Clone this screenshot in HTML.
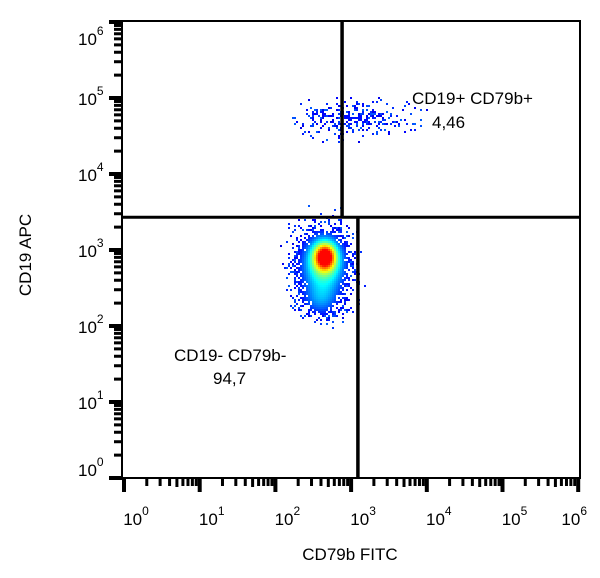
<!DOCTYPE html>
<html><head><meta charset="utf-8">
<style>
html,body{margin:0;padding:0;background:#fff;}
svg{display:block;font-family:"Liberation Sans",Arial,sans-serif;}
</style></head>
<body>
<svg id="chart" width="600" height="578" viewBox="0 0 600 578" xmlns="http://www.w3.org/2000/svg">
<g id="dots"></g>
<g id="axes"></g>
<rect x="122" y="21" width="458" height="457" fill="none" stroke="#000" stroke-width="2"/>
<g id="gates"></g>
<text x="412" y="104" font-size="17">CD19+ CD79b+</text>
<text x="432" y="128" font-size="17">4,46</text>
<text x="174" y="361" font-size="17">CD19- CD79b-</text>
<text x="213" y="384" font-size="17">94,7</text>
<text x="350" y="560" font-size="17" text-anchor="middle">CD79b FITC</text>
<text x="0" y="0" font-size="17" text-anchor="middle" transform="translate(31,255) rotate(-90)">CD19 APC</text>
</svg>
<script>
// Axis decades
const xDecades = [0,1,2,3,4,5,6];
const yDecades = [0,1,2,3,4,5,6];
// Quadrant gate (data units)
const gateY = 2700;
const gateXUpper = 760;
const gateXLower = 1230;
// Populations (centers / spreads in data units, spreads in decades)
const popCenterX = [440, 420, 380, 1100];
const popCenterY = [850, 650, 220, 55000];
const popSpreadX = [0.1, 0.2, 0.17, 0.42];
const popSpreadY = [0.12, 0.27, 0.15, 0.14];
const popWeight  = [0.75, 0.5, 0.18, 0.11];

const NS='http://www.w3.org/2000/svg';
const X0=124, XD=75.7, Y0=478, YD=76;
function sx(v){return X0+XD*Math.log10(v);}
function sy(v){return Y0-YD*Math.log10(v);}
function mk(tag,attrs,parent){const e=document.createElementNS(NS,tag);for(const k in attrs)e.setAttribute(k,attrs[k]);parent.appendChild(e);return e;}

const axes=document.getElementById('axes');
xDecades.forEach((d,i)=>{
  const x=sx(Math.pow(10,d));
  const t=mk('rect',{x:x-2,y:478,width:4,height:14,fill:'#000'},axes);
  
  
  if(i<xDecades.length-1){
    for(let m=2;m<=9;m++){
      const xm=sx(m*Math.pow(10,d));
      const mt=mk('rect',{x:xm-1.5,y:478,width:3,height:m===5?9:8,fill:'#000'},axes);
      
      
    }
  }
  const lab=mk('text',{x:x+(d===6?-4:12),y:525,'font-size':17,'text-anchor':'middle'},axes);
  
  
  lab.textContent='10';
  const sup=mk('tspan',{dy:-10,'font-size':12},lab);
  sup.textContent=String(d);
});
yDecades.forEach((d,i)=>{
  const y=sy(Math.pow(10,d));
  const t=mk('rect',{x:109,y:y-2,width:13,height:4,fill:'#000'},axes);
  
  
  if(i<yDecades.length-1){
    for(let m=2;m<=9;m++){
      const ym=sy(m*Math.pow(10,d));
      const mt=mk('rect',{x:114,y:ym-1.5,width:8,height:3,fill:'#000'},axes);
      
      
    }
  }
  const ly = d===6 ? y+23 : (d===0? y-2 : y+7);
  const lab=mk('text',{x:78,y:ly,'font-size':17},axes);
  
  
  lab.textContent='10';
  const sup=mk('tspan',{dy:-10,'font-size':12},lab);
  sup.textContent=String(d);
});

const gates=document.getElementById('gates');
const gh=mk('line',{x1:122,x2:580,y1:sy(gateY),y2:sy(gateY),stroke:'#000','stroke-width':3},gates);


const gv1=mk('line',{x1:sx(gateXUpper),x2:sx(gateXUpper),y1:21,y2:sy(gateY),stroke:'#000','stroke-width':3.5},gates);


const gv2=mk('line',{x1:sx(gateXLower),x2:sx(gateXLower),y1:sy(gateY),y2:478,stroke:'#000','stroke-width':3.5},gates);



function hash(a,b){let h=(a*374761393+b*668265263)|0;h=(h^(h>>>13))*1274126177|0;h=h^(h>>>16);return ((h>>>0)%10000)/10000;}
function jet(t){t=Math.max(0,Math.min(1,t));
  const r=Math.max(0,Math.min(1,1.5-Math.abs(4*t-3)));
  const g=Math.max(0,Math.min(1,1.5-Math.abs(4*t-2)));
  const b=Math.max(0,Math.min(1,1.5-Math.abs(4*t-1)));
  return `rgb(${Math.round(r*255)},${Math.round(g*255)},${Math.round(b*255)})`;}
const dots=document.getElementById('dots');
const cell=2;
let html='';
for(let px=124;px<578;px+=cell){
  for(let py=23;py<478;py+=cell){
    const lx=(px-X0)/XD, ly=(Y0-py)/YD;
    let dens=0;
    for(let k=0;k<popCenterX.length;k++){
      const dx=(lx-Math.log10(popCenterX[k]))/popSpreadX[k];
      const dy=(ly-Math.log10(popCenterY[k]))/popSpreadY[k];
      dens+=popWeight[k]*Math.exp(-0.5*(dx*dx+dy*dy));
    }
    if(dens<0.004)continue;
    const p = dens>0.25?1:Math.min(1,dens*4.5);
    if(hash(px,py)>p)continue;
    const t = dens>0.1 ? 0.13+0.74*Math.min(1,(dens-0.1)/0.85) : 0.1+0.12*hash(py,px);
    html+=`<rect x="${px}" y="${py}" width="${cell}" height="${cell}" fill="${jet(t)}"/>`;
  }
}
dots.innerHTML=html;
</script>
</body></html>
